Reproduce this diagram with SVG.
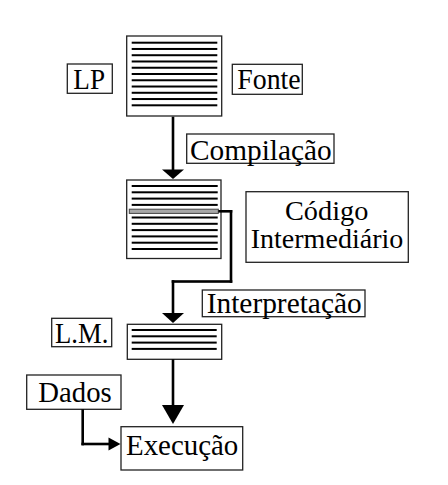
<svg xmlns="http://www.w3.org/2000/svg" width="448" height="485" viewBox="0 0 448 485">
<rect width="448" height="485" fill="#fff"/>
<g id="source">
<rect x="126.7" y="36" width="95" height="80" fill="#fff" stroke="#222" stroke-width="1.3"/>
<g fill="#000">
<rect x="131.7" y="41.7" width="85.6" height="2"/>
<rect x="131.7" y="47.96" width="85.6" height="2"/>
<rect x="131.7" y="54.22" width="85.6" height="2"/>
<rect x="131.7" y="60.48" width="85.6" height="2"/>
<rect x="131.7" y="66.74" width="85.6" height="2"/>
<rect x="131.7" y="73" width="85.6" height="2"/>
<rect x="131.7" y="79.26" width="85.6" height="2"/>
<rect x="131.7" y="85.52" width="85.6" height="2"/>
<rect x="131.7" y="91.78" width="85.6" height="2"/>
<rect x="131.7" y="98.04" width="85.6" height="2"/>
<rect x="131.7" y="104.3" width="85.6" height="2"/>
</g>
</g>
<g id="intermediate">
<rect x="126.7" y="180" width="94.3" height="78.5" fill="#fff" stroke="#222" stroke-width="1.3"/>
<g fill="#000">
<rect x="131.7" y="185" width="86" height="2"/>
<rect x="131.7" y="191.3" width="86" height="2"/>
<rect x="131.7" y="197.6" width="86" height="2"/>
<rect x="131.7" y="203.9" width="86" height="2"/>
<rect x="131.7" y="216.5" width="86" height="2"/>
<rect x="131.7" y="222.8" width="86" height="2"/>
<rect x="131.7" y="229.1" width="86" height="2"/>
<rect x="131.7" y="235.4" width="86" height="2"/>
<rect x="131.7" y="241.7" width="86" height="2"/>
<rect x="131.7" y="248" width="86" height="2"/>
</g>
<rect x="129.3" y="209.2" width="89" height="4.2" fill="#a8a8a8" stroke="#444" stroke-width="1"/>
</g>
<g id="lm">
<rect x="127.3" y="324.3" width="94.4" height="35" fill="#fff" stroke="#222" stroke-width="1.3"/>
<g fill="#000">
<rect x="131.7" y="329" width="85" height="2"/>
<rect x="131.7" y="335.3" width="85" height="2"/>
<rect x="131.7" y="341.6" width="85" height="2"/>
<rect x="131.7" y="347.9" width="85" height="2"/>
</g>
</g>
<g id="label-boxes" fill="#fff" stroke="#222" stroke-width="1.3">
<rect id="lp-box" x="67.3" y="64" width="45" height="29.3"/>
<rect id="fonte-box" x="232.3" y="64.3" width="70" height="30"/>
<rect id="compilacao-box" x="186.7" y="134" width="147.3" height="29.3"/>
<rect id="codigo-box" x="246" y="191.7" width="162.3" height="70.6"/>
<rect id="interpretacao-box" x="202.3" y="290" width="162.7" height="26.7"/>
<rect id="lmlabel-box" x="51.7" y="318.3" width="60" height="28.4"/>
<rect id="dados-box" x="26.7" y="375" width="94.3" height="34.3"/>
<rect id="execucao-box" x="121" y="426.7" width="121.7" height="43.3"/>
</g>
<g id="connectors" fill="#000">
<rect x="171.7" y="116.7" width="2.6" height="54"/>
<rect x="218.3" y="210" width="14" height="2.6"/>
<rect x="229.7" y="210" width="2.6" height="72.8"/>
<rect x="171.7" y="280.2" width="60.6" height="2.6"/>
<rect x="171.7" y="280.2" width="2.6" height="33.5"/>
<rect x="171.7" y="359.3" width="2.6" height="46.5"/>
<rect x="81.4" y="409.3" width="2.6" height="36"/>
<rect x="81.4" y="442.7" width="28.6" height="2.6"/>
<polygon points="162,169.5 184,169.5 173,179"/>
<polygon points="162,313 184,313 173,323"/>
<polygon points="162,405 184,405 173,424"/>
<polygon points="108.5,437.5 108.5,450.5 120.5,444"/>
</g>
<text id="lp-text" x="73.3" y="88.5" font-family="Liberation Serif" font-size="29" textLength="31.7" lengthAdjust="spacingAndGlyphs">LP</text>
<text id="fonte-text" x="237.3" y="89.3" font-family="Liberation Serif" font-size="29" textLength="63.4" lengthAdjust="spacingAndGlyphs">Fonte</text>
<text id="compilacao-text" x="190" y="159.5" font-family="Liberation Serif" font-size="29" textLength="141.7" lengthAdjust="spacingAndGlyphs">Compilação</text>
<text id="codigo-text1" x="285" y="220" font-family="Liberation Serif" font-size="27" textLength="83.3" lengthAdjust="spacingAndGlyphs">Código</text>
<text id="codigo-text2" x="250.7" y="248.3" font-family="Liberation Serif" font-size="27" textLength="152.6" lengthAdjust="spacingAndGlyphs">Intermediário</text>
<text id="interpretacao-text" x="206.7" y="313.3" font-family="Liberation Serif" font-size="29" textLength="155" lengthAdjust="spacingAndGlyphs">Interpretação</text>
<text id="lmlabel-text" x="55" y="343.3" font-family="Liberation Serif" font-size="29" textLength="53.3" lengthAdjust="spacingAndGlyphs">L.M.</text>
<text id="dados-text" x="38.3" y="401.7" font-family="Liberation Serif" font-size="29" textLength="73.4" lengthAdjust="spacingAndGlyphs">Dados</text>
<text id="execucao-text" x="126" y="455" font-family="Liberation Serif" font-size="29" textLength="112.3" lengthAdjust="spacingAndGlyphs">Execução</text>
</svg>
